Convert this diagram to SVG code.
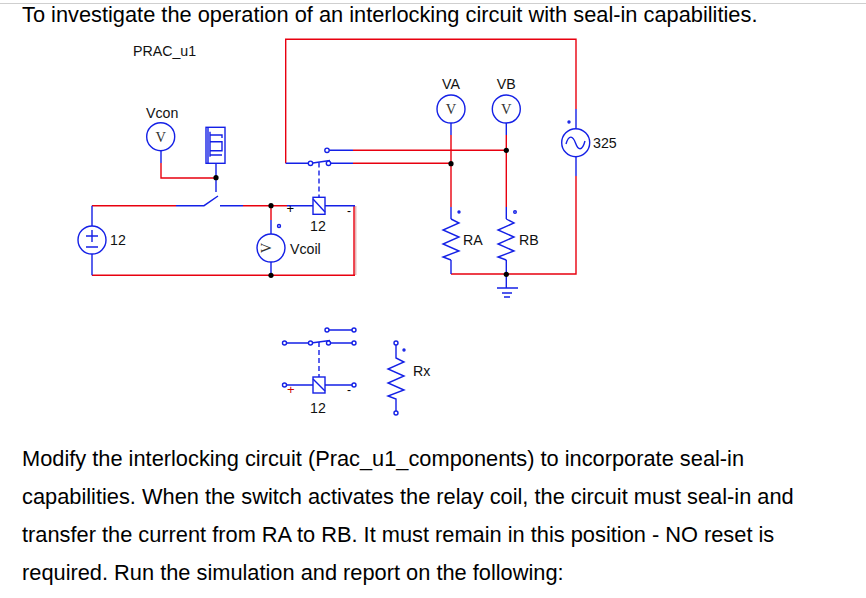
<svg xmlns="http://www.w3.org/2000/svg" width="866" height="598" viewBox="0 0 866 598">
<style>
text{font-family:"Liberation Sans",Arial,sans-serif;fill:#000}
.l{font-size:14.2px;fill:#111}
.p{font-size:21.8px}
.b{fill:none;stroke:#1420e6;stroke-width:1.4}
.r{fill:none;stroke:#e8000f;stroke-width:1.4}
.o{fill:#fff;stroke:#1420e6;stroke-width:1.4}
.d{fill:none;stroke:#1420e6;stroke-width:1.4;stroke-dasharray:5 3}
.k{fill:#000}
.m{font-family:"Liberation Serif",serif;font-size:14.5px;fill:#333;text-anchor:middle}
</style>
<rect width="866" height="598" fill="#fff"/>
<path d="M0 3.5H866" stroke="#cfcfcf" stroke-width="1"/>
<text id="title" class="p" x="22" y="22">To investigate the operation of an interlocking circuit with seal-in capabilities.</text>
<text class="l" x="133" y="56">PRAC_u1</text>
<g id="connectors">
<path d="M355.5 206V275" stroke="#e6b8b8" stroke-width="2" fill="none"/>
<path class="r" d="M92 205.7H176M243 205.7H287M92 275.3H355M354 205.7V275"/>
<path class="r" d="M161 163V178H216M271 205.7V220"/>
<path class="b" d="M176 205.7H204L218 196M220 205.7H243M216 163V192M92 205.7V226M92 254V275.3M161 150V163M271 262V275.3M271 220V234M287 205.7H313M325 205.7H355"/>
<path class="r" d="M285.7 163.3V39.3H576V109M353 163.3H451M353 150.3H506.3M451 135V207M506.3 135V207M576 176V274H451"/>
<path class="b" d="M285.7 163.3H308M330 163.3H353M311 163.3L330 160.5M329 150.3H353"/>
<path class="d" d="M319 162.5V197"/>
<path class="b" d="M451 123V135M506.3 123V135M576 109V128M576 157V176M451 207V219M451 260V274M506.3 207V219M506.3 260V288"/>
<path class="b" d="M497 288H518M502 293H512M504 297H510"/>
</g>
<g id="relay1">
<rect class="o" x="313" y="197.3" width="12" height="17"/>
<path class="b" d="M313 199L325 212"/>
<circle class="o" cx="310.5" cy="163.3" r="2.2"/><circle class="o" cx="328.5" cy="163.3" r="2.2"/><circle class="o" cx="327" cy="150.3" r="2.2"/>
<text class="l" x="318" y="231" text-anchor="middle">12</text>
<text x="286.5" y="213" style="font-size:13px">+</text><text x="347" y="215" style="font-size:12px">-</text>
</g>
<g id="source12">
<circle class="o" cx="92" cy="240" r="14"/>
<path class="b" d="M86 236H98M92 230V242M86 247H98"/>
<text class="l" x="110" y="245">12</text>
</g>
<g id="vcon"><circle class="o" cx="160.7" cy="136.7" r="14"/><text class="m" x="160.7" y="141.5">V</text><text class="l" x="146" y="118">Vcon</text></g>
<g id="clock">
<rect class="b" x="206" y="127.3" width="19" height="36"/>
<path class="b" d="M208 127.3V163.3M210 131.7V156.7M210 135H222V138M210 141.7H222V150.7H210M210 155H222"/>
</g>
<g id="vcoil"><circle class="o" cx="271" cy="248" r="14"/><text class="m" transform="translate(266 248) rotate(-90)" dy="5">V</text><text class="l" x="290" y="254">Vcoil</text><circle class="o" cx="279" cy="226" r="1.5"/></g>
<g id="va"><circle class="o" cx="451" cy="109" r="14"/><text class="m" x="451" y="113.8">V</text><text class="l" x="451" y="89" text-anchor="middle">VA</text></g>
<g id="vb"><circle class="o" cx="506.3" cy="109" r="14"/><text class="m" x="506.3" y="113.8">V</text><text class="l" x="506.3" y="89" text-anchor="middle">VB</text></g>
<g id="ac"><circle class="o" cx="575.7" cy="142.7" r="14"/><path class="b" d="M566 144C569 134 573 136 575.5 143C578 150 582 152 585 141"/><circle class="o" cx="569" cy="122" r="1"/><text class="l" x="593" y="148">325</text></g>
<g id="ra"><path class="b" d="M451 219L459 223L443 230L459 237L443 244L459 251L443 257L451 260"/><circle class="o" cx="459" cy="212" r="1"/><text class="l" x="463" y="245">RA</text></g>
<g id="rb"><path class="b" d="M506.3 219L514 223L498 230L514 237L498 244L514 251L498 257L506.3 260"/><circle class="o" cx="515" cy="212" r="1.3"/><text class="l" x="519" y="245">RB</text></g>
<g id="nodes"><circle class="k" cx="216" cy="177.7" r="2.6"/><circle class="k" cx="271" cy="205.7" r="2.6"/><circle class="k" cx="271" cy="275.3" r="2.6"/><circle class="k" cx="451" cy="163.7" r="2.6"/><circle class="k" cx="506.3" cy="150.3" r="2.6"/><circle class="k" cx="506.3" cy="274.3" r="2.6"/></g>
<g id="relay2">
<path class="b" d="M285 343H308M330 343H354M311 343L330 340.5M327 330H354M285 385H313M325 385H354"/>
<path class="d" d="M319 342V377"/>
<circle class="o" cx="284.5" cy="343" r="2"/><circle class="o" cx="310.5" cy="343" r="2"/><circle class="o" cx="328.5" cy="343" r="2"/><circle class="o" cx="354" cy="343" r="2"/><circle class="o" cx="327" cy="330" r="2"/><circle class="o" cx="354" cy="330" r="2"/><circle class="o" cx="284.5" cy="385" r="2"/><circle class="o" cx="354" cy="385" r="2"/>
<rect class="o" x="313" y="377" width="12" height="16"/><path class="b" d="M313 379L325 391"/>
<text x="287" y="394" style="font-size:13px;fill:#c00">+</text><text x="347" y="394" style="font-size:12px">-</text>
<text class="l" x="318" y="413" text-anchor="middle">12</text>
</g>
<g id="rx"><path class="b" d="M396 345V358L404 362L388 369L404 376L388 383L404 390L388 396L396 399V411"/><circle class="o" cx="396" cy="343" r="2"/><circle class="o" cx="396" cy="413" r="2"/><circle class="o" cx="404" cy="350" r="1"/><text class="l" x="413" y="376">Rx</text></g>
<text class="p" x="22" y="466">Modify the interlocking circuit (Prac_u1_components) to incorporate seal-in</text>
<text class="p" x="22" y="504">capabilities. When the switch activates the relay coil, the circuit must seal-in and</text>
<text class="p" x="22" y="542">transfer the current from RA to RB. It must remain in this position - NO reset is</text>
<text class="p" x="22" y="580">required. Run the simulation and report on the following:</text>
</svg>
